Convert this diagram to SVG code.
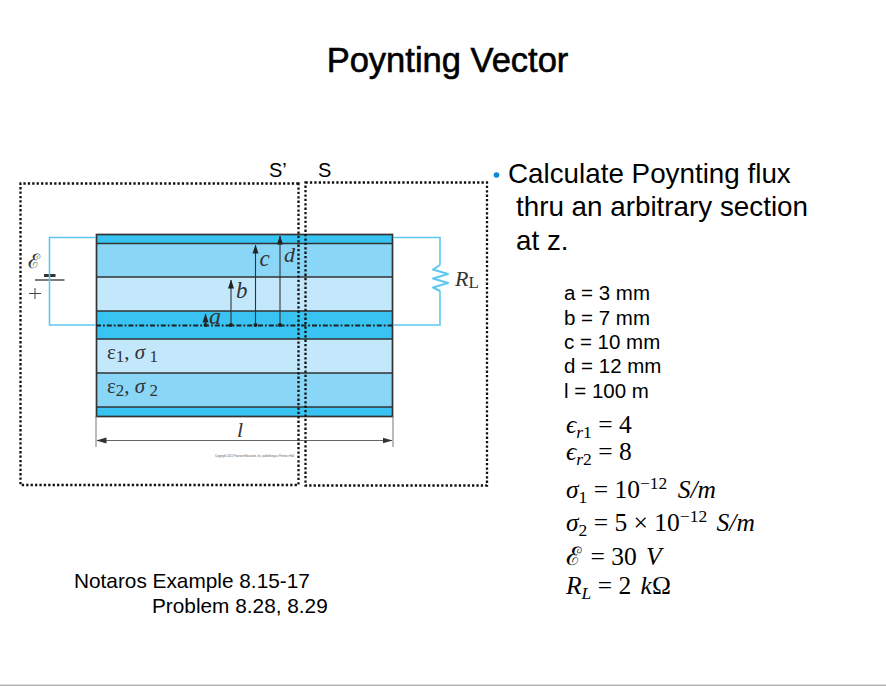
<svg xmlns="http://www.w3.org/2000/svg" width="886" height="686" viewBox="0 0 886 686">
<style>
.s{font-family:"Liberation Sans",Arial,sans-serif;fill:#000}
.m{font-family:"Liberation Serif","Times New Roman",serif;fill:#000}
.d{font-family:"Liberation Serif","Times New Roman",serif;fill:#333}
.i{font-style:italic}
.par{font-size:20.5px}
.eq{font-size:25.5px}
.sub{font-size:17.5px}
.dot{fill:none;stroke:#111;stroke-width:2.3;stroke-dasharray:2.3 2.1}
.wire{fill:none;stroke:#5cc8f0;stroke-width:1.6}
.ln{stroke:#333;stroke-width:1.1;fill:none}
.sep{stroke:#333;stroke-width:1.7;fill:none}
</style>
<defs>
<marker id="ah" markerUnits="userSpaceOnUse" markerWidth="9" markerHeight="7" refX="8.5" refY="3" orient="auto" viewBox="0 0 9 6"><path d="M9 3L0 0V6Z" fill="#222"/></marker>
<marker id="ae" markerUnits="userSpaceOnUse" markerWidth="10" markerHeight="7" refX="9.500" refY="3" orient="auto-start-reverse" viewBox="0 0 10 6"><path d="M10 3L0 0V6Z" fill="#333"/></marker>
</defs>
<rect width="886" height="686" fill="#fff"/>
<rect x="0" y="684.500" width="886" height="1.500" fill="#b5b5b5"/>
<text id="title" class="s" x="447.500" y="72" font-size="34.500" text-anchor="middle" stroke="#000" stroke-width=".6">Poynting Vector</text>

<g id="layers">
<rect x="96.500" y="234.500" width="296" height="182" fill="#38c3f2"/>
<rect x="96.500" y="243" width="296" height="34" fill="#8ad6f7"/>
<rect x="96.500" y="277" width="296" height="34" fill="#c3e8fb"/>
<rect x="96.500" y="339" width="296" height="34" fill="#c3e8fb"/>
<rect x="96.500" y="373" width="296" height="34" fill="#8ad6f7"/>
<rect x="96.500" y="234.500" width="296" height="182" fill="none" stroke="#333" stroke-width="1.7"/>
<path class="sep" d="M96 243.500H393M96 277H393M96 311H393M96 339H393M96 373H393M96 407H393"/>
<text class="d" x="107" y="359" font-size="21">ε<tspan font-size="17" dy="3">1</tspan><tspan dy="-3">, </tspan><tspan class="i">σ</tspan><tspan font-size="17" dy="3"> 1</tspan></text>
<text class="d" x="107" y="393" font-size="21">ε<tspan font-size="17" dy="3">2</tspan><tspan dy="-3">, </tspan><tspan class="i">σ</tspan><tspan font-size="17" dy="3"> 2</tspan></text>
</g>

<g id="battery">
<text class="d" x="28" y="268" font-size="20">ℰ</text>
<path d="M44 275.500H55.500" stroke="#333" stroke-width="3"/>
<path d="M35 280H64.500" stroke="#333" stroke-width="1.300"/>
<path d="M29 293.500H41M35 288V299" stroke="#444" stroke-width="1"/>
</g>

<g id="resistor">
<path class="wire" d="M440 265L433 269.500L448 274L433 278.500L448 283L433 287.500L440 291" stroke-linejoin="round" style="stroke-width:2"/>
<text class="d i" x="455" y="286" font-size="22">R<tspan font-style="normal" font-size="17" dy="2">L</tspan></text>
</g>

<g id="connectors">
<path class="wire" d="M96 237.500H49.500V325H96"/>
<path class="wire" d="M393 237.500H440V265M440 291V325H393"/>
<path d="M96 325.500H393" stroke="#222" stroke-width="1.800" stroke-dasharray="5 2 1.800 2" fill="none"/>
<path class="ln" d="M205.500 325V314" marker-end="url(#ah)"/>
<circle cx="205.500" cy="325" r="2" fill="#222"/>
<path class="ln" d="M231 325V280" marker-end="url(#ah)"/>
<circle cx="231" cy="325" r="2" fill="#222"/>
<path class="ln" d="M255.500 325V245" marker-end="url(#ah)"/>
<circle cx="255.500" cy="325" r="2" fill="#222"/>
<path class="ln" d="M280 325V236" marker-end="url(#ah)"/>
<circle cx="280" cy="325" r="2" fill="#222"/>
<path d="M96 416V447M393 416V447" stroke="#777" stroke-width="1" fill="none"/>
<path d="M97 440.500H392" stroke="#666" stroke-width="1" fill="none" marker-start="url(#ae)" marker-end="url(#ae)"/>
</g>

<g id="dim-labels">
<text class="d i" x="209" y="323.500" font-size="24">a</text>
<text class="d i" x="236" y="298" font-size="23">b</text>
<text class="d i" x="259.500" y="266" font-size="23">c</text>
<text class="d i" x="284" y="262" font-size="22">d</text>
<text class="d i" x="237" y="437" font-size="22">l</text>
<text x="215" y="456.500" font-size="3.200" fill="#555" font-family="Liberation Sans" textLength="79" lengthAdjust="spacingAndGlyphs">Copyright 2011 Pearson Education, Inc. publishing as Prentice Hall</text>
</g>

<g id="surface-s-prime">
<path class="dot" d="M298.500 183.500H20.500V485H298.500Z"/>
<text class="s" x="269" y="177" font-size="20">S’</text>
</g>
<g id="surface-s">
<path class="dot" d="M305.500 182.500H487V485.500H305.500Z"/>
<text class="s" x="318" y="177" font-size="20">S</text>
</g>

<g id="bullet-text">
<circle cx="496.500" cy="175" r="2.800" fill="#0f86d3"/>
<text class="s" x="508" y="183" font-size="27.800">Calculate Poynting flux</text>
<text class="s" x="516" y="216" font-size="27.800">thru an arbitrary section</text>
<text class="s" x="516" y="250" font-size="27.800">at z.</text>
</g>

<g id="dimensions">
<text class="s par" x="564" y="300">a = 3 mm</text>
<text class="s par" x="564" y="325">b = 7 mm</text>
<text class="s par" x="564" y="349">c = 10 mm</text>
<text class="s par" x="564" y="373">d = 12 mm</text>
<text class="s par" x="564" y="398">l = 100 m</text>
</g>

<g id="equations">
<text class="m eq" x="566" y="433"><tspan class="i">ϵ</tspan><tspan class="i sub" dy="5">r</tspan><tspan class="sub">1</tspan><tspan dy="-5"> = 4</tspan></text>
<text class="m eq" x="566" y="460"><tspan class="i">ϵ</tspan><tspan class="i sub" dy="5">r</tspan><tspan class="sub">2</tspan><tspan dy="-5"> = 8</tspan></text>
<text class="m eq" x="566" y="498"><tspan class="i">σ</tspan><tspan class="sub" dy="5">1</tspan><tspan dy="-5"> = 10</tspan><tspan class="sub" dy="-9">−12</tspan><tspan class="i" dy="9" dx="4"> S/m</tspan></text>
<text class="m eq" x="566" y="531"><tspan class="i">σ</tspan><tspan class="sub" dy="5">2</tspan><tspan dy="-5"> = 5 × 10</tspan><tspan class="sub" dy="-9">−12</tspan><tspan class="i" dy="9" dx="3"> S/m</tspan></text>
<text class="m eq" x="566" y="565">ℰ<tspan dx="3"> = 30 </tspan><tspan class="i" dx="3">V</tspan></text>
<text class="m eq" x="566" y="594"><tspan class="i">R</tspan><tspan class="i sub" dy="5">L</tspan><tspan dy="-5"> = 2 </tspan><tspan class="i" dx="3">k</tspan>Ω</text>
</g>

<g id="reference">
<text class="s" x="74" y="588" font-size="20.800">Notaros Example 8.15-17</text>
<text class="s" x="152" y="613" font-size="20.800">Problem 8.28, 8.29</text>
</g>
</svg>
